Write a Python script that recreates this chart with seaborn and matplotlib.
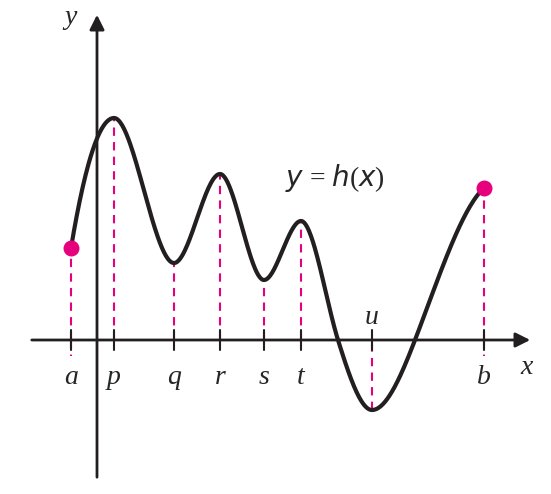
import numpy as np
import pandas as pd
import seaborn as sns
import matplotlib.pyplot as plt

# key points of the curve
names = ['a', 'p', 'q', 'r', 's', 't', '', 'u', '', 'b']
kx = [-0.65, 0.425, 1.925, 3.075, 4.175, 5.1, 6.025, 6.875, 7.95, 9.675]
ky = [2.3, 5.55, 1.925, 4.15, 1.5, 2.975, 0.0, -1.75, 0.0, 3.8]
slopes = [6.0, 0, 0, 0, 0, 0, -3.2, 0, 2.6, 0.9]
tick_labels = ['a', 'p', 'q', 'r', 's', 't', 'u', 'b']

sns.set_style("white")
plt.rcParams['font.family'] = ['Liberation Serif', 'DejaVu Serif']
MAG = '#E6007E'

# cubic Hermite curve through key points
xs, ys = [], []
for i in range(len(kx) - 1):
    x0, x1, y0, y1 = kx[i], kx[i+1], ky[i], ky[i+1]
    h = x1 - x0
    t = np.linspace(0, 1, 60)
    h00 = 2*t**3 - 3*t**2 + 1; h10 = t**3 - 2*t**2 + t
    h01 = -2*t**3 + 3*t**2; h11 = t**3 - t**2
    xs.extend(x0 + h*t)
    ys.extend(h00*y0 + h10*h*slopes[i] + h01*y1 + h11*h*slopes[i+1])
df = pd.DataFrame({'x': xs, 'y': ys})

fig = plt.figure(figsize=(5.51, 4.94), dpi=100)
ax = fig.add_axes([0, 0, 1, 1])
ax.set_xlim(-2.425, 11.35)
ax.set_ylim(-3.85, 8.5)
ax.axis('off')

# axes with arrows
ax.annotate('', xy=(10.9, 0), xytext=(-1.7, 0),
            arrowprops=dict(arrowstyle='-|>', color='#231f20', lw=2, mutation_scale=22))
ax.annotate('', xy=(0, 8.2), xytext=(0, -3.5),
            arrowprops=dict(arrowstyle='-|>', color='#231f20', lw=2, mutation_scale=22))

for n, x, y in zip(names, kx, ky):
    if n == '':
        continue
    ax.plot([x, x], [min(y, 0), max(y, 0)], color=MAG, ls=(0, (4, 3)), lw=1.5, zorder=1)
    if n in ('a', 'b'):
        ax.plot([x, x], [0, -0.4], color=MAG, ls=(0, (4, 3)), lw=1.5, zorder=1)
    ax.plot([x, x], [-0.25, 0.25], color='#231f20', lw=1.5, zorder=2)
    if n == 'u':
        ax.text(x, 0.55, n, fontsize=20, style='italic', ha='center', va='center')
    else:
        ax.text(x, -0.95, n, fontsize=20, style='italic', ha='center', va='center')

sns.lineplot(data=df, x='x', y='y', color='#231f20', lw=3, ax=ax, sort=False, zorder=3)
ax.scatter([kx[0], kx[-1]], [ky[0], ky[-1]], s=110, color=MAG, zorder=4)

ax.text(10.75, -0.7, 'x', fontsize=20, style='italic', ha='center', va='center')
ax.text(-0.65, 8.05, 'y', fontsize=20, style='italic', ha='center', va='center')
ax.text(5.95, 4.05, r'$y$ = $h$($x$)', fontsize=20, ha='center', va='center')
ax.set_xlabel(''); ax.set_ylabel('')
fig.savefig('out.png', dpi=100)
